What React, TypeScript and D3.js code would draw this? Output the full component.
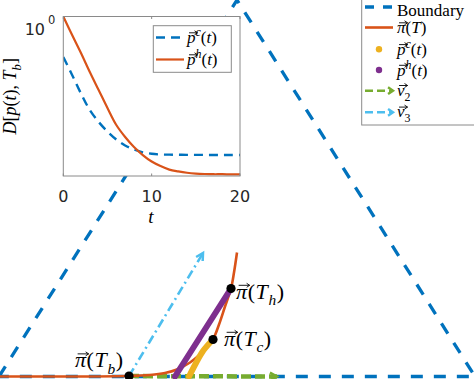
import React from 'react';
import * as d3 from 'd3';

// ---------- Inset data: distance to pi(T_b) over time ----------
const tSteps = [0, 1, 2, 3, 4, 5, 6, 7, 8, 9, 10, 11, 12, 13, 14, 15, 16, 17, 18, 19, 20];
const distCold = [0.173, 0.0794, 0.0356, 0.0174, 0.0104, 0.00687, 0.00486, 0.00375, 0.00315, 0.00279, 0.00262, 0.00254, 0.00252, 0.00251, 0.0025, 0.0025, 0.00249, 0.00249, 0.00248, 0.00248, 0.00248];
const distHot = [1.0, 0.449, 0.206, 0.0904, 0.0415, 0.019, 0.0091, 0.00542, 0.00351, 0.00248, 0.00187, 0.00154, 0.00132, 0.00122, 0.00115, 0.00111, 0.00109, 0.00108, 0.00108, 0.00107, 0.00107];
const insetXTicks = [0, 10, 20];
const insetYTicks = [1];
const insetXDomain = [0, 20];
const insetYDomain = [1e-3, 1];

// ---------- Main panel: simplex coordinates ----------
const boundaryX = [0, 0.5, 1, 0];
const boundaryY = [0, 0.866, 0, 0];
const piX = [0, 0.2731, 0.3172, 0.3487, 0.3739, 0.4013, 0.4223, 0.4391, 0.4496, 0.4622, 0.4748, 0.4874, 0.4937, 0.5];
const piY = [0, 0.001, 0.00345, 0.00805, 0.0161, 0.0322, 0.0506, 0.069, 0.0851, 0.1196, 0.161, 0.2024, 0.2392, 0.2852];
const hotX = [0.3697, 0.4874];
const hotY = [0, 0.2024];
const coldX = [0.3992, 0.4139, 0.4286, 0.4496];
const coldY = [0, 0.0311, 0.0587, 0.0851];
const markSubs = ['b', 'c', 'h'];
const markX = [0.2731, 0.4496, 0.4874];
const markY = [0.001, 0.0851, 0.2024];
const v2Tip = [0.584, 0];
const v3Tip = [0.4286, 0.2841];

const C_BLUE = '#0072BD';
const C_ORANGE = '#D95319';
const C_YELLOW = '#EDB120';
const C_PURPLE = '#7E2F8E';
const C_GREEN = '#77AC30';
const C_CYAN = '#4DBEEE';
const SERIF = '"Liberation Serif", "DejaVu Serif", serif';
const SANS = '"DejaVu Sans", sans-serif';
const AXIS = '#8a8a8a';

type Part = { s: string; i?: boolean; sub?: boolean; sup?: boolean };

function MathText(props: { x: number; y: number; fs: number; parts: Part[]; vec?: boolean; anchor?: string; transform?: string; ls?: number }) {
  const { x, y, fs, parts, vec, anchor, transform, ls } = props;
  let shift = 0;
  const spans = parts.map((p, k) => {
    const target = p.sub ? 0.3 * fs : p.sup ? -0.4 * fs : 0;
    const dy = target - shift;
    shift = target;
    return (
      <tspan key={k} dy={dy} fontStyle={p.i ? 'italic' : 'normal'} fontSize={p.sub || p.sup ? fs * 0.7 : fs}>
        {p.s}
      </tspan>
    );
  });
  const ay = y - 0.6 * fs;
  const ax1 = x + 0.12 * fs;
  const ax2 = x + 0.62 * fs;
  return (
    <g transform={transform}>
      <text x={x} y={y} fontFamily={SERIF} fontSize={fs} fill="#000" textAnchor={anchor || 'start'} letterSpacing={ls || 0}>
        {spans}
      </text>
      {vec && (
        <path
          d={`M${ax1},${ay}L${ax2},${ay}M${ax2 - 3},${ay - 2}L${ax2},${ay}L${ax2 - 3},${ay + 2}`}
          stroke="#000"
          strokeWidth={0.9}
          fill="none"
        />
      )}
    </g>
  );
}

function headPath(x0: number, y0: number, x1: number, y1: number, len = 8, ang = 0.45) {
  const a = Math.atan2(y1 - y0, x1 - x0);
  const lx = x1 - len * Math.cos(a - ang);
  const ly = y1 - len * Math.sin(a - ang);
  const rx = x1 - len * Math.cos(a + ang);
  const ry = y1 - len * Math.sin(a + ang);
  return `M${lx},${ly}L${x1},${y1}L${rx},${ry}`;
}

export default function App() {
  const W = 474;
  const H = 379;

  // main scales
  const xM = d3.scaleLinear().domain([0, 1]).range([-1, 475]);
  const yM = d3.scaleLinear().domain([0, 0.866]).range([376.5, 0]);
  const lineM = d3.line<[number, number]>().x((d) => xM(d[0])).y((d) => yM(d[1]));
  const curveM = d3
    .line<[number, number]>()
    .x((d) => xM(d[0]))
    .y((d) => yM(d[1]))
    .curve(d3.curveCatmullRom.alpha(0.5));

  const boundaryPts = boundaryX.map((v, i) => [v, boundaryY[i]] as [number, number]);
  const piPts = piX.map((v, i) => [v, piY[i]] as [number, number]);
  const hotPts = hotX.map((v, i) => [v, hotY[i]] as [number, number]);
  const coldPts = coldX.map((v, i) => [v, coldY[i]] as [number, number]);
  const tb: [number, number] = [markX[0], markY[0]];

  // inset scales
  const iL = 63.3, iR = 240, iT = 16.5, iB = 176;
  const xI = d3.scaleLinear().domain(insetXDomain).range([iL, iR]);
  const yI = d3.scaleLog().domain(insetYDomain).range([iB, iT]);
  const lineI = d3
    .line<number>()
    .x((_, i) => xI(tSteps[i]))
    .y((d) => yI(d))
    .curve(d3.curveCatmullRom.alpha(0.5));

  const labelOffsets = [
    { dx: -54, dy: -9 },
    { dx: 11, dy: 6 },
    { dx: 5, dy: 10 },
  ];

  // legend rows
  const lgX = 361.7;
  const rowY = [7, 27.5, 49.3, 70, 90.7, 112.3];
  const sx1 = 365, sx2 = 393, tx = 397;
  const lfs = 17;

  return (
    <svg width={W} height={H} style={{ position: 'absolute', left: 0, top: 0, background: '#fff' }}>
      <defs>
        <clipPath id="insetClip">
          <rect x={iL} y={iT - 2} width={iR - iL} height={iB - iT + 2} />
        </clipPath>
      </defs>
      <rect x={0} y={0} width={W} height={H} fill="#fff" />

      {/* boundary */}
      <path d={lineM(boundaryPts) || ''} fill="none" stroke={C_BLUE} strokeWidth={3.3} strokeDasharray="12 11" />

      {/* v2 arrow */}
      <path d={lineM([tb, v2Tip as [number, number]]) || ''} stroke={C_GREEN} strokeWidth={4.5} strokeDasharray="10 4" fill="none" />
      <path d={headPath(xM(tb[0]), yM(0), xM(v2Tip[0]), yM(v2Tip[1]), 8, 0.5)} stroke={C_GREEN} strokeWidth={2.5} fill="none" />

      {/* pi(T) curve */}
      <path d={curveM(piPts) || ''} fill="none" stroke={C_ORANGE} strokeWidth={2.6} />

      {/* v3 arrow */}
      <path d={lineM([tb, v3Tip as [number, number]]) || ''} stroke={C_CYAN} strokeWidth={2.6} strokeDasharray="9 4 2 4" fill="none" />
      <path d={headPath(xM(tb[0]), yM(tb[1]), xM(v3Tip[0]), yM(v3Tip[1]), 8, 0.5)} stroke={C_CYAN} strokeWidth={2.5} fill="none" />

      {/* trajectories */}
      <path d={curveM(hotPts) || ''} fill="none" stroke={C_PURPLE} strokeWidth={6} strokeLinecap="round" />
      <path d={curveM(coldPts) || ''} fill="none" stroke={C_YELLOW} strokeWidth={6} strokeLinecap="round" />

      {/* marked points */}
      {markX.map((mx, i) => (
        <circle key={i} cx={xM(mx)} cy={yM(markY[i])} r={4.6} fill="#000" />
      ))}
      {markX.map((mx, i) => (
        <MathText
          key={'l' + i}
          x={xM(mx) + labelOffsets[i].dx}
          y={yM(markY[i]) + labelOffsets[i].dy}
          fs={22}
          ls={0.6}
          vec
          parts={[{ s: 'π', i: true }, { s: '(' }, { s: 'T', i: true }, { s: markSubs[i], i: true, sub: true }, { s: ')' }]}
        />
      ))}

      {/* ---------- inset ---------- */}
      <rect x={iL} y={iT} width={iR - iL} height={iB - iT} fill="#fff" />
      <g clipPath="url(#insetClip)">
        <path d={lineI(distCold) || ''} fill="none" stroke={C_BLUE} strokeWidth={2.4} strokeDasharray="9 6" />
        <path d={lineI(distHot) || ''} fill="none" stroke={C_ORANGE} strokeWidth={2.2} />
      </g>
      <rect x={iL} y={iT} width={iR - iL} height={iB - iT} fill="none" stroke={AXIS} strokeWidth={1} />
      {insetXTicks.map((t) => (
        <g key={t}>
          <line x1={xI(t)} x2={xI(t)} y1={iB} y2={iB - 2.5} stroke={AXIS} />
          <line x1={xI(t)} x2={xI(t)} y1={iT} y2={iT + 2.5} stroke={AXIS} />
          <text x={xI(t)} y={202} textAnchor="middle" fontFamily={SANS} fontSize={16} fill="#262626">
            {t}
          </text>
        </g>
      ))}
      {insetYTicks.map((v) => (
        <g key={v}>
          <line x1={iL} x2={iL + 2.5} y1={yI(v)} y2={yI(v)} stroke={AXIS} />
          <line x1={iR} x2={iR - 2.5} y1={yI(v)} y2={yI(v)} stroke={AXIS} />
          <text x={45} y={yI(v) + 18.5} textAnchor="end" fontFamily={SANS} fontSize={16} fill="#262626">
            10
          </text>
          <text x={48} y={yI(v) + 7.5} fontFamily={SANS} fontSize={11.5} fill="#262626">
            {Math.round(Math.log10(v))}
          </text>
        </g>
      ))}
      <MathText x={151} y={223} fs={19} anchor="middle" parts={[{ s: 't', i: true }]} />
      <MathText
        x={0}
        y={0}
        fs={18}
        anchor="middle"
        transform={`translate(16,${(iT + iB) / 2}) rotate(-90)`}
        parts={[
          { s: 'D', i: true },
          { s: '[' },
          { s: 'p', i: true },
          { s: '(' },
          { s: 't', i: true },
          { s: '), ' },
          { s: 'T', i: true },
          { s: 'b', i: true, sub: true },
          { s: ']' },
        ]}
      />

      {/* inset legend */}
      <rect x={153.3} y={25.7} width={78} height={46.6} fill="#fff" stroke={AXIS} strokeWidth={1} />
      <line x1={156} x2={184} y1={37.5} y2={37.5} stroke={C_BLUE} strokeWidth={2.4} strokeDasharray="9 6" />
      <line x1={156} x2={184} y1={59.5} y2={59.5} stroke={C_ORANGE} strokeWidth={2.2} />
      <MathText x={187} y={43} fs={17} vec parts={[{ s: 'p', i: true }, { s: 'c', i: true, sup: true }, { s: '(' }, { s: 't', i: true }, { s: ')' }]} />
      <MathText x={187} y={65} fs={17} vec parts={[{ s: 'p', i: true }, { s: 'h', i: true, sup: true }, { s: '(' }, { s: 't', i: true }, { s: ')' }]} />

      {/* ---------- main legend ---------- */}
      <rect x={lgX} y={-3} width={130} height={128} fill="#fff" stroke={AXIS} strokeWidth={1} />
      <line x1={sx1} x2={sx2} y1={rowY[0]} y2={rowY[0]} stroke={C_BLUE} strokeWidth={3.3} strokeDasharray="9 9" />
      <MathText x={tx} y={rowY[0] + 8.5} fs={lfs} parts={[{ s: 'Boundary' }]} />
      <line x1={sx1} x2={sx2} y1={rowY[1]} y2={rowY[1]} stroke={C_ORANGE} strokeWidth={2.6} />
      <MathText x={tx} y={rowY[1] + 5.5} fs={lfs} vec parts={[{ s: 'π', i: true }, { s: '(' }, { s: 'T', i: true }, { s: ')' }]} />
      <circle cx={379} cy={rowY[2]} r={3.2} fill={C_YELLOW} />
      <MathText x={tx} y={rowY[2] + 5.5} fs={lfs} vec parts={[{ s: 'p', i: true }, { s: 'c', i: true, sup: true }, { s: '(' }, { s: 't', i: true }, { s: ')' }]} />
      <circle cx={379} cy={rowY[3]} r={3.2} fill={C_PURPLE} />
      <MathText x={tx} y={rowY[3] + 5.5} fs={lfs} vec parts={[{ s: 'p', i: true }, { s: 'h', i: true, sup: true }, { s: '(' }, { s: 't', i: true }, { s: ')' }]} />
      <line x1={sx1} x2={sx2} y1={rowY[4]} y2={rowY[4]} stroke={C_GREEN} strokeWidth={2.6} strokeDasharray="8 4" />
      <path d={headPath(sx1, rowY[4], sx2, rowY[4], 6, 0.6)} stroke={C_GREEN} strokeWidth={2.4} fill="none" />
      <MathText x={tx} y={rowY[4] + 5} fs={lfs} vec parts={[{ s: 'v', i: true }, { s: '2', sub: true }]} />
      <line x1={sx1} x2={sx2} y1={rowY[5]} y2={rowY[5]} stroke={C_CYAN} strokeWidth={2.6} strokeDasharray="8 4" />
      <path d={headPath(sx1, rowY[5], sx2, rowY[5], 6, 0.6)} stroke={C_CYAN} strokeWidth={2.4} fill="none" />
      <MathText x={tx} y={rowY[5] + 5} fs={lfs} vec parts={[{ s: 'v', i: true }, { s: '3', sub: true }]} />
    </svg>
  );
}
